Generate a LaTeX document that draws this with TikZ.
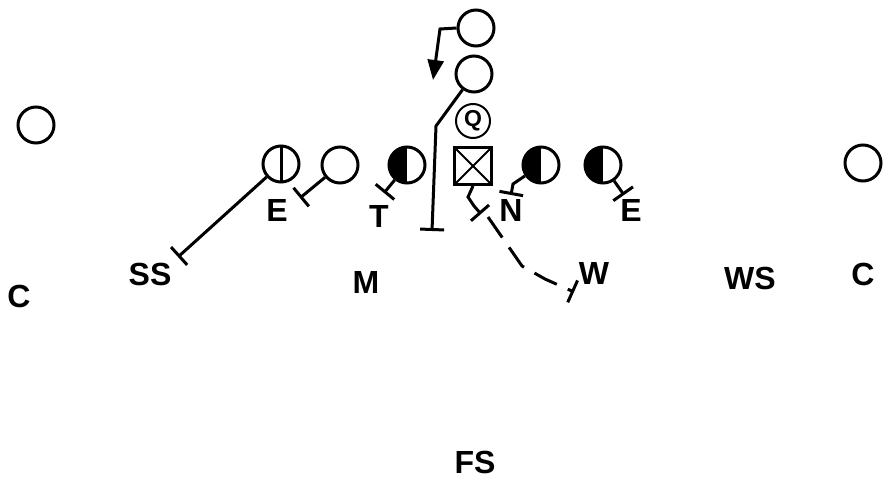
\documentclass[tikz,border=0pt]{standalone}
\usepackage{fontspec}
\setmainfont{Liberation Sans}
\usetikzlibrary{arrows.meta}

\begin{document}
\begin{tikzpicture}[x=1pt,y=-1pt,line width=3pt,
  man/.style={circle,draw,minimum size=36pt,inner sep=0pt},
  tech/.style={man,path picture={\fill (path picture bounding box.south west)
    rectangle (path picture bounding box.north);}},
  split/.style={man,path picture={\draw (path picture bounding box.south)
    -- (path picture bounding box.north);}},
  snap/.style={draw,minimum size=37pt,inner sep=0pt,path picture={\draw[line width=1.8pt]
    (path picture bounding box.south west) -- (path picture bounding box.north east)
    (path picture bounding box.north west) -- (path picture bounding box.south east);}},
  lab/.style={font=\fontsize{32}{34}\selectfont\bfseries},
  blk/.style={-{Bar[width=24pt]}}]
\useasboundingbox (0,0) rectangle (892,492);
% offense
\node[man] (wr) at (476,28) {};
\node[man] (rb) at (474,74) {};
\node[man,minimum size=34pt,line width=2pt,font=\fontsize{23}{24}\selectfont\bfseries] (qb) at (473,121) {Q};
\node[snap] (ctr) at (473,166) {};
\node[tech] (rg) at (541,165) {};
\node[tech] (rt) at (603,165) {};
\node[tech] (lt) at (407,165) {};
\node[man] (lg) at (340,165) {};
\node[split] (te) at (281,164) {};
\node[man] (lwr) at (36,125) {};
\node[man] (rwr) at (863,163) {};
% defense
\node[lab] (lcb) at (19,296) {C};
\node[lab] (ss) at (150,274) {SS};
\node[lab] (de) at (277,210) {E};
\node[lab] (dt) at (379,216) {T};
\node[lab] (mlb) at (366,282) {M};
\node[lab] (nt) at (511,210) {N};
\node[lab] (re) at (631,210) {E};
\node[lab] (wlb) at (594,273) {W};
\node[lab] (ws) at (750,278) {WS};
\node[lab] (rcb) at (863,274) {C};
\node[lab] (fs) at (475,462) {FS};
% routes
\coordinate (mot) at (433,80);
\coordinate (teend) at (178,257);
\coordinate (lgend) at (300,198);
\coordinate (ltend) at (384,193);
\coordinate (rbend) at (432,231);
\coordinate (cend) at (481,214);
\coordinate (zone) at (488,217);
\coordinate (wend) at (574,292);
\coordinate (rgend) at (511,195);
\coordinate (rtend) at (624,195);
\draw[-{Triangle[length=20pt,width=16pt]}] (wr.west) -- (440,29) -- (mot);
\draw[blk] (te) -- (teend);
\draw[blk] (lg) -- (lgend);
\draw[blk] (lt) -- (ltend);
\draw[blk] (rb) -- (436,126) -- (rbend);
\draw[blk] (ctr.south) -- (468,197) -- (474,206) -- (cend);
\draw[blk,dash pattern=on 25pt off 12pt] (zone) -- (522,266) -- (545,279) -- (wend);
\draw[blk] (rg) -- (513,184) -- (rgend);
\draw[blk] (rt) -- (rtend);
\end{tikzpicture}
\end{document}
